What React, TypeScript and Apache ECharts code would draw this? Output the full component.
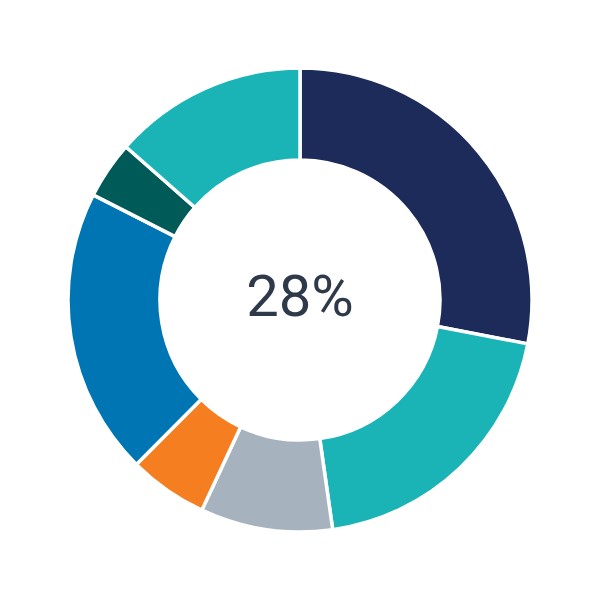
import React from "react";
import * as echarts from "echarts";

const categories = ["A", "B", "C", "D", "E", "F", "G"];
const values = [28, 19.7, 9.2, 5.5, 20, 4, 13.5];
const colors = ["#1c2b5a", "#1bb4b6", "#a7b2bf", "#f47e20", "#0075b3", "#005a58", "#1bb4b6"];
const centerLabel = "28%";

export default function App() {
  const chartRef = React.useRef<HTMLDivElement>(null);

  React.useEffect(() => {
    if (!chartRef.current) return;
    const chart = echarts.init(chartRef.current, null, { renderer: "svg" });
    chart.setOption({
      animation: false,
      title: {
        text: centerLabel,
        left: "center",
        top: 262,
        textStyle: {
          fontFamily: "Roboto",
          fontSize: 58,
          fontWeight: 400,
          color: "#2e3a49",
        },
      },
      series: [
        {
          type: "pie",
          center: ["50%", "50%"],
          radius: [140, 232],
          startAngle: 90,
          clockwise: true,
          label: { show: false },
          labelLine: { show: false },
          emphasis: { disabled: true },
          itemStyle: { borderColor: "#ffffff", borderWidth: 3.5 },
          data: values.map((value, i) => ({
            name: categories[i],
            value,
            itemStyle: { color: colors[i] },
          })),
        },
      ],
    });
    return () => chart.dispose();
  }, []);

  return (
    <div
      ref={chartRef}
      style={{ position: "fixed", left: 0, top: 0, width: 600, height: 600, background: "#fff" }}
    />
  );
}
